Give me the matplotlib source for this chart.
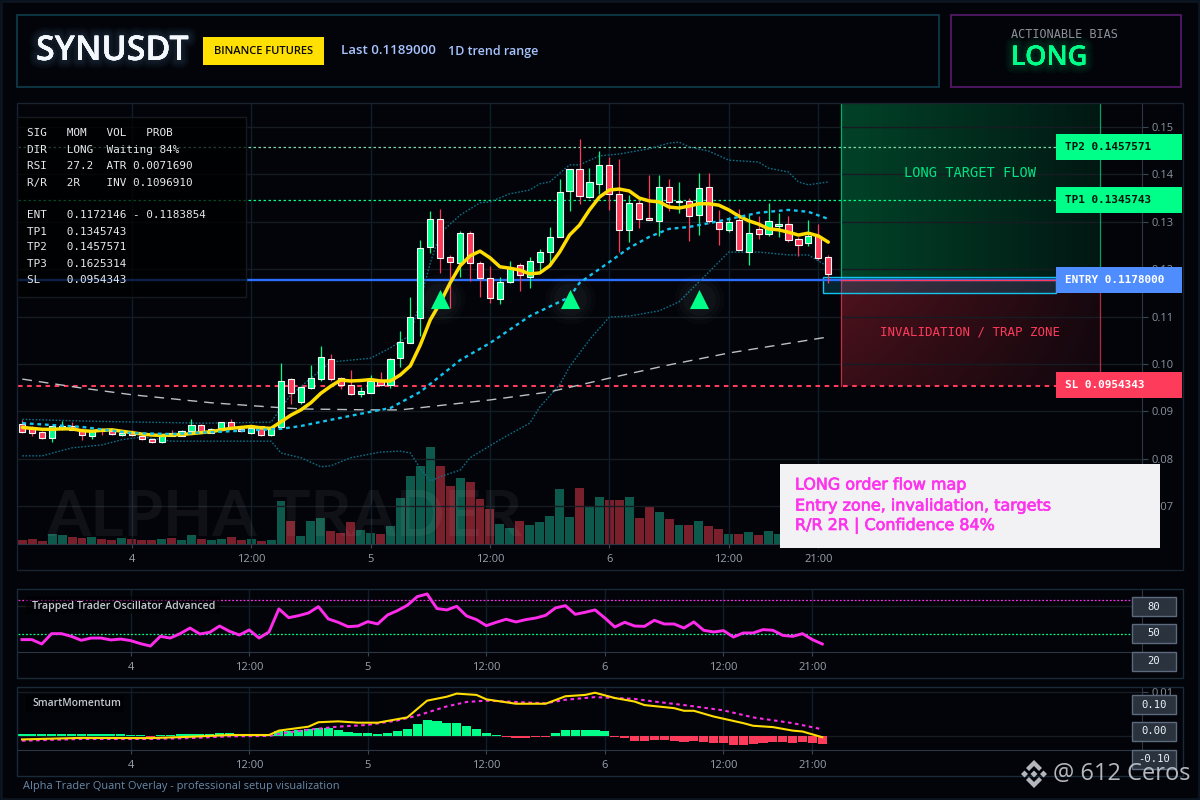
import matplotlib as mpl
import matplotlib.pyplot as plt
import matplotlib.patheffects as pe
import numpy as np
from matplotlib.patches import Polygon, Rectangle

mpl.use("Agg")

plt.rcParams["font.family"] = ["Open Sans", "DejaVu Sans"]

# hourly candles
opens = [.0873, .0864, .0856, .0843, .0863, .0868, .0860, .0847, .0861, .0858, .0849, .0855, .0848, .0841, .0835, .0854,
         .0848, .0858, .0871, .0855, .0865, .0878, .0862, .0854, .0868, .0851, .0866, .0968, .0920, .0949, .0968, .1010,
         .0971, .0956, .0937, .0939, .0963, .0956, .1012, .1045, .1097, .1247, .1306, .1226, .1213, .1276, .1213, .1181,
         .1137, .1173, .1209, .1184, .1215, .1236, .1268, .1365, .1411, .1352, .1380, .1420, .1359, .1283, .1340, .1308,
         .1302, .1373, .1342, .1344, .1314, .1373, .1300, .1283, .1304, .1236, .1285, .1274, .1291, .1295, .1264, .1255,
         .1270, .1226]
closes = [.0856, .0855, .0843, .0868, .0868, .0860, .0849, .0858, .0858, .0852, .0855, .0850, .0841, .0835, .0847, .0848,
          .0858, .0871, .0858, .0862, .0877, .0866, .0858, .0865, .0849, .0866, .0963, .0938, .0951, .0970, .1014, .0969,
          .0955, .0937, .0942, .0963, .0956, .1010, .1046, .1098, .1245, .1306, .1224, .1215, .1276, .1213, .1181, .1139,
          .1173, .1202, .1188, .1217, .1236, .1268, .1363, .1411, .1354, .1384, .1420, .1359, .1283, .1340, .1306, .1304,
          .1373, .1342, .1344, .1312, .1371, .1302, .1285, .1300, .1240, .1276, .1274, .1302, .1295, .1262, .1251, .1270,
          .1224, .1190]
highs = [.0881, .0868, .0858, .0868, .0880, .0877, .0865, .0861, .0865, .0862, .0861, .0861, .0853, .0844, .0853, .0860,
         .0860, .0883, .0874, .0865, .0878, .0883, .0867, .0868, .0870, .0868, .1003, .0970, .0954, .0998, .1038, .1021,
         .0973, .0987, .0951, .0977, .0982, .1012, .1070, .1141, .1262, .1323, .1327, .1230, .1281, .1281, .1217, .1207,
         .1184, .1217, .1213, .1226, .1243, .1289, .1390, .1411, .1475, .1413, .1449, .1437, .1432, .1357, .1346, .1399,
         .1399, .1390, .1384, .1350, .1403, .1403, .1325, .1310, .1327, .1316, .1312, .1340, .1319, .1312, .1268, .1304,
         .1295, .1230]
lows = [.0855, .0847, .0841, .0836, .0861, .0860, .0840, .0841, .0851, .0851, .0847, .0848, .0840, .0833, .0834, .0847,
        .0847, .0857, .0855, .0854, .0863, .0863, .0857, .0853, .0847, .0848, .0864, .0916, .0916, .0947, .0964, .0964,
        .0947, .0935, .0930, .0938, .0954, .0950, .0993, .1044, .1059, .1234, .1192, .1118, .1184, .1175, .1141, .1129,
        .1127, .1171, .1154, .1160, .1192, .1209, .1268, .1323, .1338, .1350, .1359, .1325, .1236, .1257, .1287, .1304,
        .1270, .1323, .1319, .1259, .1272, .1297, .1251, .1278, .1240, .1209, .1264, .1270, .1268, .1257, .1228, .1249,
        .1219, .1171]
volumes = [4, 5, 3, 10, 9, 7, 6, 7, 5, 4, 6, 5, 4, 4, 5, 6, 4, 9, 5, 4, 5, 7, 4, 5, 3, 4, 43, 23, 8, 23, 26, 13, 11, 22,
           14, 11, 10, 18, 46, 68, 78, 97, 78, 58, 66, 62, 45, 35, 20, 16, 23, 19, 22, 28, 55, 27, 56, 37, 47, 44, 44, 47,
           26, 38, 32, 25, 19, 19, 23, 18, 15, 10, 10, 12, 9, 13, 10, 8, 7, 6, 7, 9]

fast_ma = [.0866, .0864, .0862, .0862, .0863, .0863, .0859, .0858, .0860, .0861, .0858, .0855, .0852, .0850, .0849, .0850,
           .0851, .0853, .0855, .0857, .0861, .0864, .0866, .0868, .0865, .0864, .0878, .0892, .0903, .0918, .0938, .0953,
           .0966, .0964, .0965, .0967, .0964, .0964, .0977, .0996, .1040, .1093, .1129, .1171, .1207, .1228, .1238, .1224,
           .1205, .1202, .1198, .1190, .1192, .1207, .1236, .1272, .1293, .1325, .1352, .1367, .1369, .1365, .1350, .1344,
           .1342, .1331, .1329, .1333, .1338, .1338, .1335, .1325, .1312, .1302, .1295, .1285, .1283, .1278, .1272, .1276,
           .1270, .1257]

mid_bars = [1, 7, 12, 16, 22, 27, 29, 32, 36, 38, 41, 45, 48, 52, 56, 57, 60, 62, 64, 66, 68, 70, 73, 75, 78, 80, 82]
mid_ma = [.0875, .0867, .0854, .0852, .0858, .0863, .0869, .0882, .0899, .0907, .0941, .1008, .1044, .1101, .1141, .1171,
          .1215, .1245, .1268, .1285, .1289, .1297, .1310, .1319, .1325, .1321, .1306]
slow_bars = [1, 7, 12, 20, 26, 29, 36, 39, 48, 54, 60, 66, 72, 82]
slow_ma = [.0968, .0949, .0935, .0918, .0909, .0905, .0903, .0903, .0924, .0941, .0970, .0998, .1023, .1057]

upper_bars = [1, 8, 19, 26, 27, 28, 31, 32, 36, 38, 40, 41, 42, 43, 45, 47, 48, 50, 52, 53, 54, 56, 57, 59, 61, 64, 66,
              67, 68, 70, 72, 75, 76, 78, 79, 80, 82]
upper_band = [.0883, .0879, .0875, .0877, .0907, .0935, .0987, .1004, .1012, .1034, .1061, .1135, .1213, .1276, .1314,
              .1340, .1342, .1359, .1367, .1380, .1384, .1420, .1420, .1439, .1443, .1454, .1466, .1468, .1458, .1449,
              .1430, .1426, .1413, .1405, .1384, .1378, .1384]
lower_bars = [1, 3, 6, 9, 11, 13, 16, 26, 27, 29, 31, 32, 34, 37, 39, 40, 41, 42, 43, 45, 46, 49, 52, 53, 55, 56, 58, 60,
              62, 65, 67, 69, 72, 75, 78, 80, 82]
lower_band = [.0806, .0806, .0823, .0829, .0840, .0846, .0837, .0837, .0812, .0802, .0783, .0785, .0802, .0814, .0816,
              .0812, .0780, .0753, .0762, .0776, .0802, .0840, .0875, .0909, .0956, .0994, .1051, .1099, .1101, .1112,
              .1131, .1173, .1236, .1236, .1230, .1230, .1205]

signal_bars = [43, 56, 69]
signal_price = .1137

oscillator = [45.0, 45.0, 41.1, 50.3, 50.3, 47.9, 44.4, 46.4, 46.4, 44.7, 45.5, 44.1, 41.4, 39.3, 47.9, 46.4, 50.3, 55.3,
              50.0, 51.5, 57.1, 52.4, 49.1, 53.6, 46.4, 51.8, 72.3, 64.5, 66.3, 68.7, 74.3, 63.4, 60.4, 56.5, 57.1, 61.0,
              58.9, 66.9, 70.8, 75.5, 83.2, 85.6, 72.6, 71.4, 74.6, 66.0, 62.8, 57.4, 60.4, 63.1, 60.7, 62.8, 64.2, 66.6,
              73.2, 75.2, 67.5, 69.3, 71.4, 64.2, 56.2, 60.4, 57.1, 56.8, 62.2, 58.9, 58.9, 55.3, 60.7, 53.3, 51.8, 53.0,
              47.3, 50.9, 50.9, 53.9, 53.3, 48.8, 47.9, 50.3, 45.0, 41.1]

mom_hist = [.00045, .00045, .00045, .00045, .00045, .00045, .00045, .00045, .00045, .00045, .00045, .00025, .00025, -.00015,
            .0002, .0002, .00045, .00045, .00045, .00045, .0007, .0007, .0002, .0002, .00015, .00015, .001, .00115, .0014,
            .0016, .00175, .00175, .0014, .0009, .0007, .0007, .00045, .0007, .00115, .0016, .0027, .0036, .0034, .003, .003,
            .0023, .0016, .0007, .0002, -.00015, -.0004, -.0004, -.0003, -.0003, .0007, .0014, .0014, .0014, .0014, .001,
            -.00025, -.00045, -.0011, -.0012, -.001, -.001, -.0012, -.0014, -.0012, -.0014, -.0017, -.0017, -.0021, -.0021,
            -.0019, -.0017, -.0014, -.0014, -.0017, -.0014, -.0017, -.0019]
mom_bars = [1, 7, 14, 18, 22, 26, 27, 30, 31, 33, 35, 37, 40, 42, 44, 45, 47, 48, 51, 54, 56, 58, 59, 61, 63, 64, 67, 68,
            69, 71, 72, 74, 75, 77, 79, 80, 82]
mom_line = [-.0008, -.00045, -.0005, -.0002, .0002, .0002, .0012, .0021, .0031, .0033, .003, .003, .0042, .008, .0089, .0096,
            .0093, .0083, .0073, .0073, .009, .0093, .0098, .0086, .0078, .007, .0063, .0057, .0057, .0044, .0039, .0029,
            .0023, .002, .0012, .001, -.0003]
sig_bars = [1, 7, 14, 18, 22, 26, 28, 30, 33, 36, 39, 41, 44, 46, 48, 51, 54, 56, 59, 63, 65, 68, 72, 75, 79, 82]
mom_signal = [-.0011, -.0007, -.0007, -.0005, -.0001, 0, .0008, .0014, .0021, .0025, .0035, .0046, .0067, .0077, .008, .0077,
              .0074, .0082, .0088, .0084, .0078, .007, .0058, .0042, .0029, .0015]

tick_bars = [12, 24, 36, 48, 60, 72, 81]
tick_labels = ["4", "12:00", "5", "12:00", "6", "12:00", "21:00"]
price_ticks = [.15, .14, .13, .12, .11, .10, .09, .08, .07]

tp1, tp2, entry, sl = 0.1345743, 0.1457571, 0.1178, 0.0954343
entry_top, entry_bottom = 0.1184, 0.1150

stats_lines = [
    "SIG   MOM   VOL   PROB",
    "DIR   LONG  Waiting 84%",
    "RSI   27.2  ATR 0.0071690",
    "R/R   2R    INV 0.1096910",
    "",
    "ENT   0.1172146 - 0.1183854",
    "TP1   0.1345743",
    "TP2   0.1457571",
    "TP3   0.1625314",
    "SL    0.0954343",
]
stats_rows = [133, 150, 166, 183, 199, 215, 232, 247, 264, 280]

BG = "#020409"
GREEN = "#00ff88"
RED = "#ff3b5c"
MAGENTA = "#ff2bea"
YELLOW = "#ffdd00"
CYAN = "#12c4ee"
MONO = "DejaVu Sans Mono"
W, H = 1200, 800

fig = plt.figure(figsize=(12, 8), dpi=100, facecolor=BG)


def px_axes(x0, y0, x1, y1, **kwargs):
    return fig.add_axes([x0 / W, 1 - y1 / H, (x1 - x0) / W, (y1 - y0) / H], **kwargs)


def style_time_axis(ax):
    ax.set_xticks(tick_bars, tick_labels)
    ax.tick_params(axis="x", colors="#3a4652", labelcolor="#9aa2ac", labelsize=8, length=3, width=0.8, pad=4)
    ax.tick_params(axis="y", left=False, labelleft=False)
    for side in ["top", "left"]:
        ax.spines[side].set_visible(False)
    ax.spines["bottom"].set_color("#2c3644")
    ax.spines["right"].set_color("#2c3644")
    for bar in tick_bars:
        ax.axvline(bar, color="#0f1f2a", lw=1, zorder=0.5)


bars = np.arange(1, len(closes) + 1)
main_xlim = (0.568, 113.53)
main_ylim = (0.0620, 0.15506)
low_xlim = (0.595, 114.36)

# volume underneath the price axes
ax_vol = px_axes(18, 103, 1142, 544, facecolor=BG)
vol_colors = ["#0d5a4c" if c >= o else "#7a1f2c" for o, c in zip(opens, closes)]
ax_vol.bar(bars, volumes, width=0.9, color=vol_colors, zorder=2)
ax_vol.set_xlim(main_xlim)
ax_vol.set_ylim(0, 441)
ax_vol.axis("off")

ax = px_axes(18, 103, 1142, 544)
ax.patch.set_alpha(0)

zone_left, zone_right = 83.3, 109.3
level_stop = 104.9
green_grad = np.zeros((2, 200, 4))
green_grad[..., 0:3] = (0, 1, 0.53)
green_grad[..., 3] = np.linspace(0.25, 0.08, 200)
ax.imshow(green_grad, extent=(zone_left, zone_right, entry, main_ylim[1]), aspect="auto", zorder=0.2)
red_grad = np.zeros((60, 200, 4))
red_grad[..., 0:3] = (1, 0.2, 0.3)
u = np.linspace(0, 1, 200)[None, :]
v = np.linspace(0, 1, 60)[:, None]
red_grad[..., 3] = (0.31 - 0.22 * u) * (1 - 0.3 * v)
ax.imshow(red_grad, extent=(zone_left, zone_right, sl, entry), aspect="auto", zorder=0.2)
ax.plot([zone_left, zone_left], [entry, main_ylim[1]], color="#00d880", lw=0.9, alpha=0.75, zorder=1)
ax.plot([zone_right, zone_right], [entry, main_ylim[1]], color="#00d880", lw=0.9, alpha=0.75, zorder=1)
ax.plot([zone_left, zone_left], [sl, entry], color=RED, lw=0.9, alpha=0.7, zorder=1)
ax.plot([zone_right, zone_right], [sl, entry], color=RED, lw=0.9, alpha=0.7, zorder=1)

ax.add_patch(Rectangle((81.5, entry_bottom), level_stop - 81.5, entry_top - entry_bottom, fc=(0.05, 0.6, 0.75, 0.22),
                       ec=CYAN, lw=1, zorder=1.2))

level_end = (level_stop - main_xlim[0]) / (main_xlim[1] - main_xlim[0])
ax.axhline(tp2, xmax=level_end, color="#7fd8a8", lw=0.9, ls=(0, (2, 2)), zorder=1.3)
ax.axhline(tp1, xmax=level_end, color=GREEN, lw=0.9, ls=(0, (2, 2)), zorder=1.3)
ax.axhline(entry, xmax=level_end, color="#2a6fff", lw=1.7, zorder=1.3)
ax.plot([zone_left, level_stop], [entry, entry], color=RED, lw=1, zorder=1.35)
ax.axhline(sl, xmax=level_end, color=RED, lw=1.5, ls=(0, (2.2, 2.2)), zorder=1.3)

# bands and slow average
ax.plot(upper_bars, upper_band, color="#0f6d85", lw=1, ls=(0, (1.2, 1.2)), zorder=2)
ax.plot(lower_bars, lower_band, color="#0f6d85", lw=1, ls=(0, (1.2, 1.2)), zorder=2)
ax.plot(slow_bars, slow_ma, color="#bcc0c4", lw=1, ls=(0, (7, 5)), zorder=2)

# candles
candle_colors = [GREEN if c >= o else RED for o, c in zip(opens, closes)]
ax.vlines(bars, lows, highs, colors=candle_colors, lw=0.9, zorder=3)
bottoms = np.minimum(opens, closes)
heights = np.abs(np.array(closes) - np.array(opens))
ax.bar(bars, heights, bottom=bottoms, width=0.62, color=candle_colors, edgecolor="#f4f8f6", linewidth=0.8, zorder=3.2)

ax.plot(bars, fast_ma, color=YELLOW, lw=2.5, solid_capstyle="round", zorder=4)
ax.plot(mid_bars, mid_ma, color=CYAN, lw=1.7, ls=(0, (1.6, 1.6)), zorder=4)

signal_y = [signal_price] * len(signal_bars)
for size, alpha in [(1300, 0.02), (900, 0.025), (550, 0.03)]:
    ax.scatter(signal_bars, signal_y, s=size, color="#d0ffe8", alpha=alpha, lw=0, zorder=4.5)
ax.scatter(signal_bars, signal_y, s=190, marker="^", color=GREEN, lw=0, zorder=5)

ax.set_xlim(main_xlim)
ax.set_ylim(main_ylim)
style_time_axis(ax)
ax.set_yticks(price_ticks)
ax.yaxis.set_major_formatter(lambda v, _: f"{v:.2f}")
ax.yaxis.tick_right()
ax.tick_params(axis="y", right=True, labelright=True, left=False, labelleft=False, colors="#3a4652",
               labelcolor="#8a939d", labelsize=8, length=4, width=0.8, pad=3)
for value in price_ticks:
    ax.axhline(value, color="#161c22", lw=1, zorder=0.4)

# oscillator panel
ax_osc = px_axes(18, 589, 1142, 652, facecolor="none")
ax_osc.plot(bars, oscillator, color=MAGENTA, lw=2.1, zorder=3)
ax_osc.axhline(80, color=MAGENTA, lw=0.9, ls=(0, (1.5, 1.5)), zorder=2)
ax_osc.axhline(50, color=GREEN, lw=0.9, ls=(0, (1.5, 1.5)), zorder=2)
ax_osc.axhline(75, color="#161c22", lw=1, zorder=0.4)
ax_osc.set_xlim(low_xlim)
ax_osc.set_ylim(34, 90)
style_time_axis(ax_osc)

# momentum panel
ax_mom = px_axes(18, 687, 1142, 750, facecolor="none")
hist_colors = [GREEN if v >= 0 else RED for v in mom_hist]
ax_mom.bar(bars, mom_hist, width=0.92, color=hist_colors, zorder=2)
ax_mom.plot(mom_bars, mom_line, color=YELLOW, lw=1.5, zorder=4)
ax_mom.plot(sig_bars, mom_signal, color=MAGENTA, lw=1.5, ls=(0, (1.7, 1.7)), zorder=3.5)
ax_mom.axhline(0, color="#161c22", lw=1, zorder=0.4)
ax_mom.axhline(0.01, color="#161c22", lw=1, zorder=0.4)
ax_mom.set_xlim(low_xlim)
ax_mom.set_ylim(-0.0032, 0.0111)
style_time_axis(ax_mom)
ax_mom.yaxis.tick_right()
ax_mom.set_yticks([0.01], ["0.01"])
ax_mom.tick_params(axis="y", right=True, labelright=True, left=False, labelleft=False, colors="#3a4652",
                   labelcolor="#8a939d", labelsize=8, length=4, width=0.8, pad=3)

# everything placed by pixel: header, tags, panels
ov = fig.add_axes([0, 0, 1, 1], facecolor="none")
ov.set_xlim(0, W)
ov.set_ylim(H, 0)
ov.axis("off")


def box(x0, y0, x1, y1, fc="none", ec="none", lw=1, **kwargs):
    ov.add_patch(Rectangle((x0, y0), x1 - x0, y1 - y0, fc=fc, ec=ec, lw=lw, **kwargs))


def glow(color):
    # soft halo, wide and faint
    r, g, b = mpl.colors.to_rgb(color)
    return [pe.Stroke(linewidth=w, foreground=(r, g, b, 0.035)) for w in (12, 9, 6, 3)] + [pe.Normal()]


box(1, 1, 1199, 799, ec="#0c1520", lw=2)
box(17, 15, 939, 87, ec="#0e3d4c", lw=1.2)
box(951, 15, 1181, 87, ec="#5a1a6e", lw=1.2)
box(17, 103, 1183, 570, ec="#1a2430")
box(17, 589, 1183, 678, ec="#1a2a38")
box(17, 687, 1183, 776, ec="#1a2a38")

ov.text(36, 51, "SYNUSDT", color="#f4f8fc", fontsize=24.5, fontweight="semibold", va="center",
        path_effects=glow("#7fc8ff"))
box(203, 37, 324, 65, fc="#ffe000")
ov.text(263.5, 51, "BINANCE FUTURES", color="#08080c", fontsize=8, fontweight="semibold", ha="center", va="center")
ov.text(341, 51, "Last 0.1189000", color="#a8c4ff", fontsize=9.5, fontweight="semibold", va="center")
ov.text(448, 51, "1D trend range", color="#a8c4ff", fontsize=9, fontweight="semibold", va="center")
ov.text(1011, 34, "ACTIONABLE BIAS", color="#8b9098", fontsize=8.6, family=MONO, va="center")
ov.text(1011, 58, "LONG", color=GREEN, fontsize=19.5, fontweight="semibold", va="center", path_effects=glow(GREEN))

ov.text(970, 173, "LONG TARGET FLOW", color="#00e484", fontsize=9.9, family=MONO, ha="center", va="center")
ov.text(970, 332, "INVALIDATION / TRAP ZONE", color=RED, fontsize=8.9, family=MONO, ha="center", va="center")

for x0, y0, label, fc, tc in [(1056, 134, "TP2 0.1457571", GREEN, "#04140c"),
                              (1056, 187, "TP1 0.1345743", GREEN, "#04140c"),
                              (1056, 267, "ENTRY 0.1178000", "#4f8dff", "white"),
                              (1056, 372, "SL 0.0954343", RED, "white")]:
    box(x0, y0, 1182, y0 + 26, fc=fc)
    ov.text(x0 + 9, y0 + 13, label, color=tc, fontsize=7.9, family=MONO, fontweight="bold", va="center")

box(17, 117, 246, 297, fc=(0, 0, 0, 0.72), ec="#141a20", zorder=3)
for row, line in zip(stats_rows, stats_lines):
    ov.text(27, row, line, color="#e6eaee", fontsize=7.9, family=MONO, va="center", zorder=4)

ov.text(46, 518, "ALPHA TRADER", color="white", alpha=0.055, fontsize=46, family="Lato", fontweight="bold", va="center")

box(780, 464, 1160, 548, fc="#f2f2f4", zorder=3)
for row, line in zip([485, 506, 526], ["LONG order flow map", "Entry zone, invalidation, targets",
                                       "R/R 2R | Confidence 84%"]):
    ov.text(795, row, line, color="#ff33ee", fontsize=11.5, family="DejaVu Sans", va="center", zorder=4,
            path_effects=[pe.withStroke(linewidth=0.5, foreground="#ff33ee")])

box(26, 596, 220, 614, fc=(0, 0, 0, 0.55))
ov.text(32, 606, "Trapped Trader Oscillator Advanced", color="#c4cad2", fontsize=7.7, fontweight="semibold", va="center")
box(26, 695, 124, 712, fc=(0, 0, 0, 0.55))
ov.text(32, 704, "SmartMomentum", color="#c4cad2", fontsize=7.4, fontweight="semibold", va="center")

for y0, label in [(597, "80"), (624, "50"), (652, "20"), (695, "0.10"), (722, "0.00"), (750, "-0.10")]:
    box(1132, y0, 1176, y0 + 19, fc="#2a323e", ec="#5c6a7c")
    ov.text(1154, y0 + 9.5, label, color="#eef4fa", fontsize=7.6, family=MONO, ha="center", va="center")

ov.text(23, 787, "Alpha Trader Quant Overlay - professional setup visualization", color="#6b8aa8", fontsize=7.9, va="center")

# exchange mark and credit, bottom right
logo_cx, logo_cy = 1034, 774
logo_parts = [
    [(-8, -6), (0, -14), (8, -6), (5, -3), (0, -8), (-5, -3)],
    [(-8, 6), (0, 14), (8, 6), (5, 3), (0, 8), (-5, 3)],
    [(-13, 0), (-9.5, -3.5), (-6, 0), (-9.5, 3.5)],
    [(13, 0), (9.5, -3.5), (6, 0), (9.5, 3.5)],
    [(0, -3.5), (3.5, 0), (0, 3.5), (-3.5, 0)],
]
for part in logo_parts:
    ov.add_patch(Polygon([(logo_cx + dx, logo_cy + dy) for dx, dy in part], fc="#c8ccd2", ec="none", alpha=0.9, zorder=5))
ov.text(1053, 774, "@ 612 Ceros", color="#c8ccd2", alpha=0.9, fontsize=17, va="center", zorder=5)

fig.savefig("out.png", dpi=100, facecolor=BG)
